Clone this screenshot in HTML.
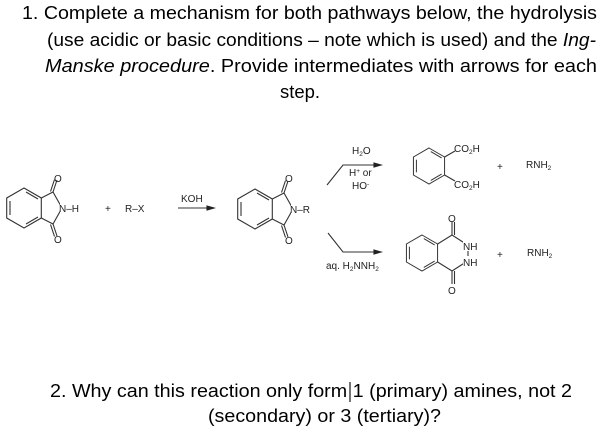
<!DOCTYPE html>
<html><head><style>
html,body{margin:0;padding:0;background:#fff;}
svg{display:block;}
.t{font-family:"Liberation Sans",sans-serif;font-size:18px;fill:#000;}
.c{font-family:"Liberation Sans",sans-serif;font-size:10px;fill:#222;}
.s{font-size:6.5px;}
line,polyline,polygon{stroke:#333;stroke-width:1.1;fill:none;}
polygon.ah{fill:#222;stroke:#222;}
</style></head><body>
<svg width="606" height="432" viewBox="0 0 606 432" xmlns="http://www.w3.org/2000/svg">
<defs>
<g id="benz">
<polygon points="0,-20 17.3,-10 17.3,10 0,20 -17.3,10 -17.3,-10"/>
<line x1="2" y1="-16" x2="14" y2="-9"/>
<line x1="2" y1="16" x2="14" y2="9"/>
<line x1="-14" y1="-7" x2="-14" y2="7"/>
</g>
<g id="imide">
<use href="#benz"/>
<polyline points="17.3,-10 29,-16 38,0 29,16 17.3,10"/>
<line x1="29" y1="-16" x2="33" y2="-28"/>
<line x1="26.5" y1="-16.5" x2="30.5" y2="-28.5"/>
<line x1="29" y1="16" x2="33" y2="28"/>
<line x1="26.5" y1="16.5" x2="30.5" y2="28.5"/>
</g>
</defs>
<text class="t" x="22" y="19" textLength="575" lengthAdjust="spacingAndGlyphs">1. Complete a mechanism for both pathways below, the hydrolysis</text>
<text class="t" x="47" y="46" textLength="549" lengthAdjust="spacingAndGlyphs">(use acidic or basic conditions – note which is used) and the <tspan font-style="italic">Ing-</tspan></text>
<text class="t" x="45" y="72" textLength="552" lengthAdjust="spacingAndGlyphs"><tspan font-style="italic">Manske procedure</tspan>. Provide intermediates with arrows for each</text>
<text class="t" x="280" y="98" textLength="40" lengthAdjust="spacingAndGlyphs">step.</text>

<g transform="translate(24,208)">
<use href="#imide"/>
<rect x="36" y="-6" width="9" height="12" fill="#fff" stroke="none"/>
</g>
<text class="c" x="54" y="182">O</text>
<text class="c" x="54" y="243">O</text>
<text class="c" x="59" y="212">N–H</text>
<text class="c" x="105" y="212">+</text>
<text class="c" x="125" y="212">R–X</text>
<text class="c" x="181" y="202">KOH</text>
<line x1="178" y1="208" x2="208" y2="208"/>
<polygon class="ah" points="207,206 214,208 207,210"/>

<g transform="translate(255,209)">
<use href="#imide"/>
<rect x="36" y="-6" width="9" height="12" fill="#fff" stroke="none"/>
</g>
<text class="c" x="285" y="182">O</text>
<text class="c" x="285" y="244">O</text>
<text class="c" x="290" y="213">N–R</text>

<polyline points="327,185 343,165 376,165"/>
<polygon class="ah" points="374,163 381,165 374,167"/>
<text class="c" x="352" y="154">H<tspan class="s" dy="2">2</tspan><tspan dy="-2">O</tspan></text>
<text class="c" x="349" y="176">H<tspan class="s" dy="-3">+</tspan><tspan dy="3"> or</tspan></text>
<text class="c" x="352" y="189">HO<tspan class="s" dy="-3">-</tspan></text>

<g transform="translate(429,166) scale(0.9)"><use href="#benz"/></g>
<line x1="444.6" y1="157" x2="455" y2="151"/>
<line x1="444.6" y1="175" x2="455" y2="181"/>
<text class="c" x="454" y="152">CO<tspan class="s" dy="2">2</tspan><tspan dy="-2">H</tspan></text>
<text class="c" x="454" y="188">CO<tspan class="s" dy="2">2</tspan><tspan dy="-2">H</tspan></text>
<text class="c" x="497" y="170">+</text>
<text class="c" x="526" y="168">RNH<tspan class="s" dy="2">2</tspan></text>

<polyline points="328,233 343,252 376,252"/>
<polygon class="ah" points="374,250 381,252 374,254"/>
<text class="c" x="326" y="269">aq. H<tspan class="s" dy="2">2</tspan><tspan dy="-2">NNH</tspan><tspan class="s" dy="2">2</tspan></text>

<g transform="translate(422,253) scale(0.9)"><use href="#benz"/></g>
<polyline points="437.6,244 452,235 466,244"/>
<polyline points="437.6,262 452,271 466,262"/>
<line x1="452" y1="235" x2="452" y2="222"/>
<line x1="454.5" y1="235" x2="454.5" y2="222"/>
<line x1="452" y1="271" x2="452" y2="284"/>
<line x1="454.5" y1="271" x2="454.5" y2="284"/>
<rect x="463" y="241" width="18" height="24" fill="#fff" stroke="none"/>
<line x1="468" y1="251" x2="468" y2="256"/>
<text class="c" x="448" y="222">O</text>
<text class="c" x="448" y="294">O</text>
<text class="c" x="463" y="250">NH</text>
<text class="c" x="463" y="266">NH</text>
<text class="c" x="497" y="258">+</text>
<text class="c" x="527" y="256">RNH<tspan class="s" dy="2">2</tspan></text>

<text class="t" x="50" y="397" textLength="522" lengthAdjust="spacingAndGlyphs">2. Why can this reaction only form 1 (primary) amines, not 2</text>
<line x1="350" y1="382" x2="350" y2="402" style="stroke:#000"/>
<text class="t" x="208" y="422" textLength="233" lengthAdjust="spacingAndGlyphs">(secondary) or 3 (tertiary)?</text>
</svg>
</body></html>
